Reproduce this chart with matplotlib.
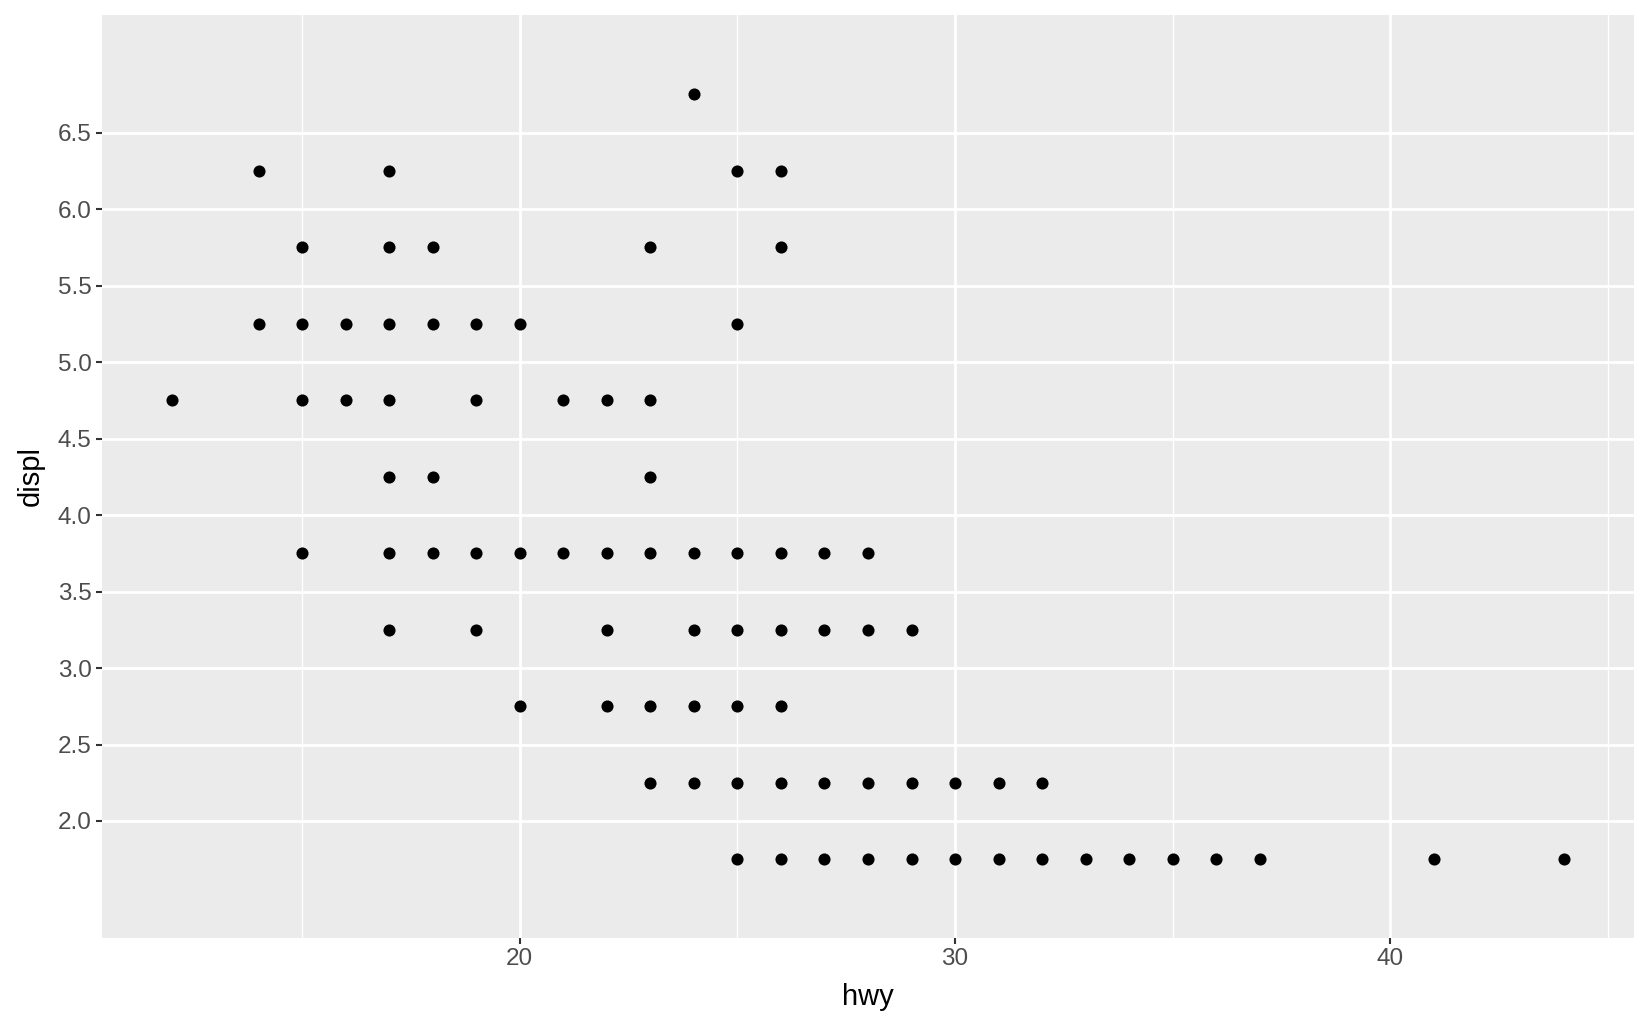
import numpy as np
from matplotlib import pyplot as plt

plt.rcParams['font.family'] = ['Liberation Sans', 'DejaVu Sans']

# binned displ levels and the hwy values that appear in each row
displ_levels = [6.75, 6.25, 5.75, 5.25, 4.75, 4.25, 3.75, 3.25, 2.75, 2.25, 1.75]
hwy_rows = [
    [24],
    [14, 17, 25, 26],
    [15, 17, 18, 23, 26],
    [14, 15, 16, 17, 18, 19, 20, 25],
    [12, 15, 16, 17, 19, 21, 22, 23],
    [17, 18, 23],
    [15, 17, 18, 19, 20, 21, 22, 23, 24, 25, 26, 27, 28],
    [17, 19, 22, 24, 25, 26, 27, 28, 29],
    [20, 22, 23, 24, 25, 26],
    [23, 24, 25, 26, 27, 28, 29, 30, 31, 32],
    [25, 26, 27, 28, 29, 30, 31, 32, 33, 34, 35, 36, 37, 41, 44],
]
x_ticks = [20, 30, 40]
x_minor = [15, 25, 35, 45]
y_ticks = [2.0, 2.5, 3.0, 3.5, 4.0, 4.5, 5.0, 5.5, 6.0, 6.5]

hwy = np.concatenate([np.array(r, dtype=float) for r in hwy_rows])
displ = np.concatenate([np.full(len(r), d) for d, r in zip(displ_levels, hwy_rows)])

fig = plt.figure(figsize=(16.5, 10.31), dpi=100)
ax = fig.add_axes([0.0618, 0.0902, 0.9285, 0.8953])
ax.set_facecolor('#EBEBEB')
for s in ax.spines.values():
    s.set_visible(False)

ax.set_xlim(10.4, 45.6)
ax.set_ylim(1.235, 7.27)
ax.set_xticks(x_ticks)
ax.set_xticks(x_minor, minor=True)
ax.set_yticks(y_ticks)
ax.set_yticklabels([f'{v:.1f}' for v in y_ticks])
ax.grid(which='major', color='white', linewidth=2.0)
ax.grid(which='minor', axis='x', color='white', linewidth=1.0)
ax.set_axisbelow(True)
ax.tick_params(which='major', length=4.5, width=1.5, color='#333333',
               labelcolor='#4D4D4D', labelsize=17.5, pad=3)
ax.tick_params(which='minor', length=0)

ax.scatter(hwy, displ, s=76, color='black', linewidths=0, zorder=3)

ax.set_xlabel('hwy', fontsize=21, color='black', labelpad=9)
ax.set_ylabel('displ', fontsize=21, color='black', labelpad=9)

fig.savefig('out.png', dpi=100)
